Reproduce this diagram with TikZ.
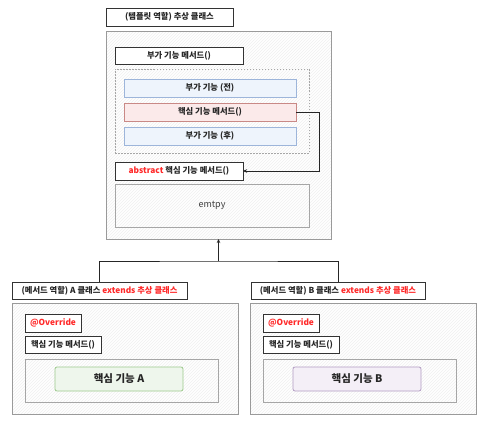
\documentclass[tikz,border=0pt]{standalone}
\usepackage{fontspec}
\setmainfont{Noto Sans CJK KR}
\usetikzlibrary{arrows.meta,patterns}
\definecolor{redtxt}{HTML}{FF2A2A}
\definecolor{darkline}{HTML}{333333}
\definecolor{frameline}{HTML}{9A9A9A}
\definecolor{innerline}{HTML}{A6A6A6}
\definecolor{bluefill}{HTML}{EEF4FC}
\definecolor{blueline}{HTML}{9DB5DA}
\definecolor{redfill}{HTML}{FBEAEA}
\definecolor{redline}{HTML}{C98986}
\definecolor{greenfill}{HTML}{EEF6EC}
\definecolor{greenline}{HTML}{9CC98C}
\definecolor{purplefill}{HTML}{F4EFF7}
\definecolor{purpleline}{HTML}{B29CC2}
\begin{document}
\begin{tikzpicture}[x=1pt,y=-1pt,
  font=\fontsize{8.3}{9}\selectfont\bfseries,
  every node/.style={inner sep=0pt, outer sep=0pt, anchor=center},
  titlebox/.style={draw=darkline, fill=white, line width=0.8pt, text=black!85},
  framebox/.style={draw=frameline, line width=0.8pt, preaction={fill=white}, pattern=north east lines, pattern color=black!6},
  innerbox/.style={draw=innerline, line width=0.7pt, preaction={fill=white}, pattern=north east lines, pattern color=black!6},
  dashbox/.style={draw=innerline, line width=0.7pt, dashed, dash pattern=on 1.5pt off 1.5pt},
  bluebox/.style={draw=blueline, fill=bluefill, line width=0.8pt, text=black!85},
  redbox/.style={draw=redline, fill=redfill, line width=0.8pt, text=black!85},
  greenbox/.style={draw=greenline, fill=greenfill, line width=0.8pt, rounded corners=2pt, text=black!85},
  purplebox/.style={draw=purpleline, fill=purplefill, line width=0.8pt, rounded corners=2pt, text=black!85},
  bigtext/.style={font=\fontsize{10.5}{11}\selectfont\bfseries},
  conn/.style={draw=black!85, line width=0.8pt},
  tip/.style={-{Stealth[length=4pt,width=3.5pt]}}
]
\useasboundingbox (0,0) rectangle (485,423);

% ===== Abstract class =====
\node[framebox, minimum width=225pt, minimum height=208pt] (mainframe) at (218.5,135) {};
\node[titlebox, minimum width=127pt, minimum height=18pt] (maintitle) at (169.5,17) {(템플릿 역할) 추상 클래스};
\node[titlebox, minimum width=128pt, minimum height=17pt] (tmethod) at (179,55.5) {부가 기능 메서드()};
\node[dashbox, minimum width=194pt, minimum height=84pt] (dash) at (212,111) {};
\node[bluebox, minimum width=172pt, minimum height=18pt] (before) at (210,88) {부가 기능 (전)};
\node[redbox, minimum width=172pt, minimum height=18pt] (core) at (210,112) {핵심 기능 메서드()};
\node[bluebox, minimum width=172pt, minimum height=18pt] (after) at (210,136) {부가 기능 (후)};
\node[titlebox, minimum width=128pt, minimum height=18pt] (abstract) at (179,171) {\textcolor{redtxt}{abstract} 핵심 기능 메서드()};
\node[innerbox, minimum width=194pt, minimum height=43pt, font=\fontsize{9}{10}\selectfont, text=black!75] (empty) at (212,205.5) {emtpy};

\coordinate (bend1) at (319,112);
\coordinate (bend2) at (319,171);
\draw[conn, tip] (core.east) -- (bend1) -- (bend2) -- (abstract.east);

% ===== Class A =====
\node[framebox, minimum width=226pt, minimum height=111pt] (aframe) at (125,358.5) {};
\node[titlebox, minimum width=175pt, minimum height=17pt] (atitle) at (99.5,290.5) {(메서드 역할) A 클래스 \textcolor{redtxt}{extends 추상 클래스}};
\node[titlebox, minimum width=56pt, minimum height=18pt] (aover) at (53,323) {\textcolor{redtxt}{@Override}};
\node[titlebox, minimum width=76pt, minimum height=17pt] (amethod) at (63,344.5) {핵심 기능 메서드()};
\node[innerbox, minimum width=193pt, minimum height=43pt] (ainner) at (121.5,380.5) {};
\node[greenbox, minimum width=128pt, minimum height=24pt, bigtext] (acore) at (119,379) {핵심 기능 A};

% ===== Class B =====
\node[framebox, minimum width=226pt, minimum height=111pt] (bframe) at (363,358.5) {};
\node[titlebox, minimum width=174pt, minimum height=17pt] (btitle) at (338,290.5) {(메서드 역할) B 클래스 \textcolor{redtxt}{extends 추상 클래스}};
\node[titlebox, minimum width=56pt, minimum height=18pt] (bover) at (291,323) {\textcolor{redtxt}{@Override}};
\node[titlebox, minimum width=76pt, minimum height=17pt] (bmethod) at (301,344.5) {핵심 기능 메서드()};
\node[innerbox, minimum width=193pt, minimum height=43pt] (binner) at (359.5,380.5) {};
\node[purplebox, minimum width=128pt, minimum height=24pt, bigtext] (bcore) at (357,379) {핵심 기능 B};

% ===== Inheritance =====
\coordinate (junction) at (218.5,261);
\draw[conn] (atitle.north) |- (junction) -| (btitle.north);
\draw[conn, tip] (junction) -- (mainframe.south);
\end{tikzpicture}
\end{document}
